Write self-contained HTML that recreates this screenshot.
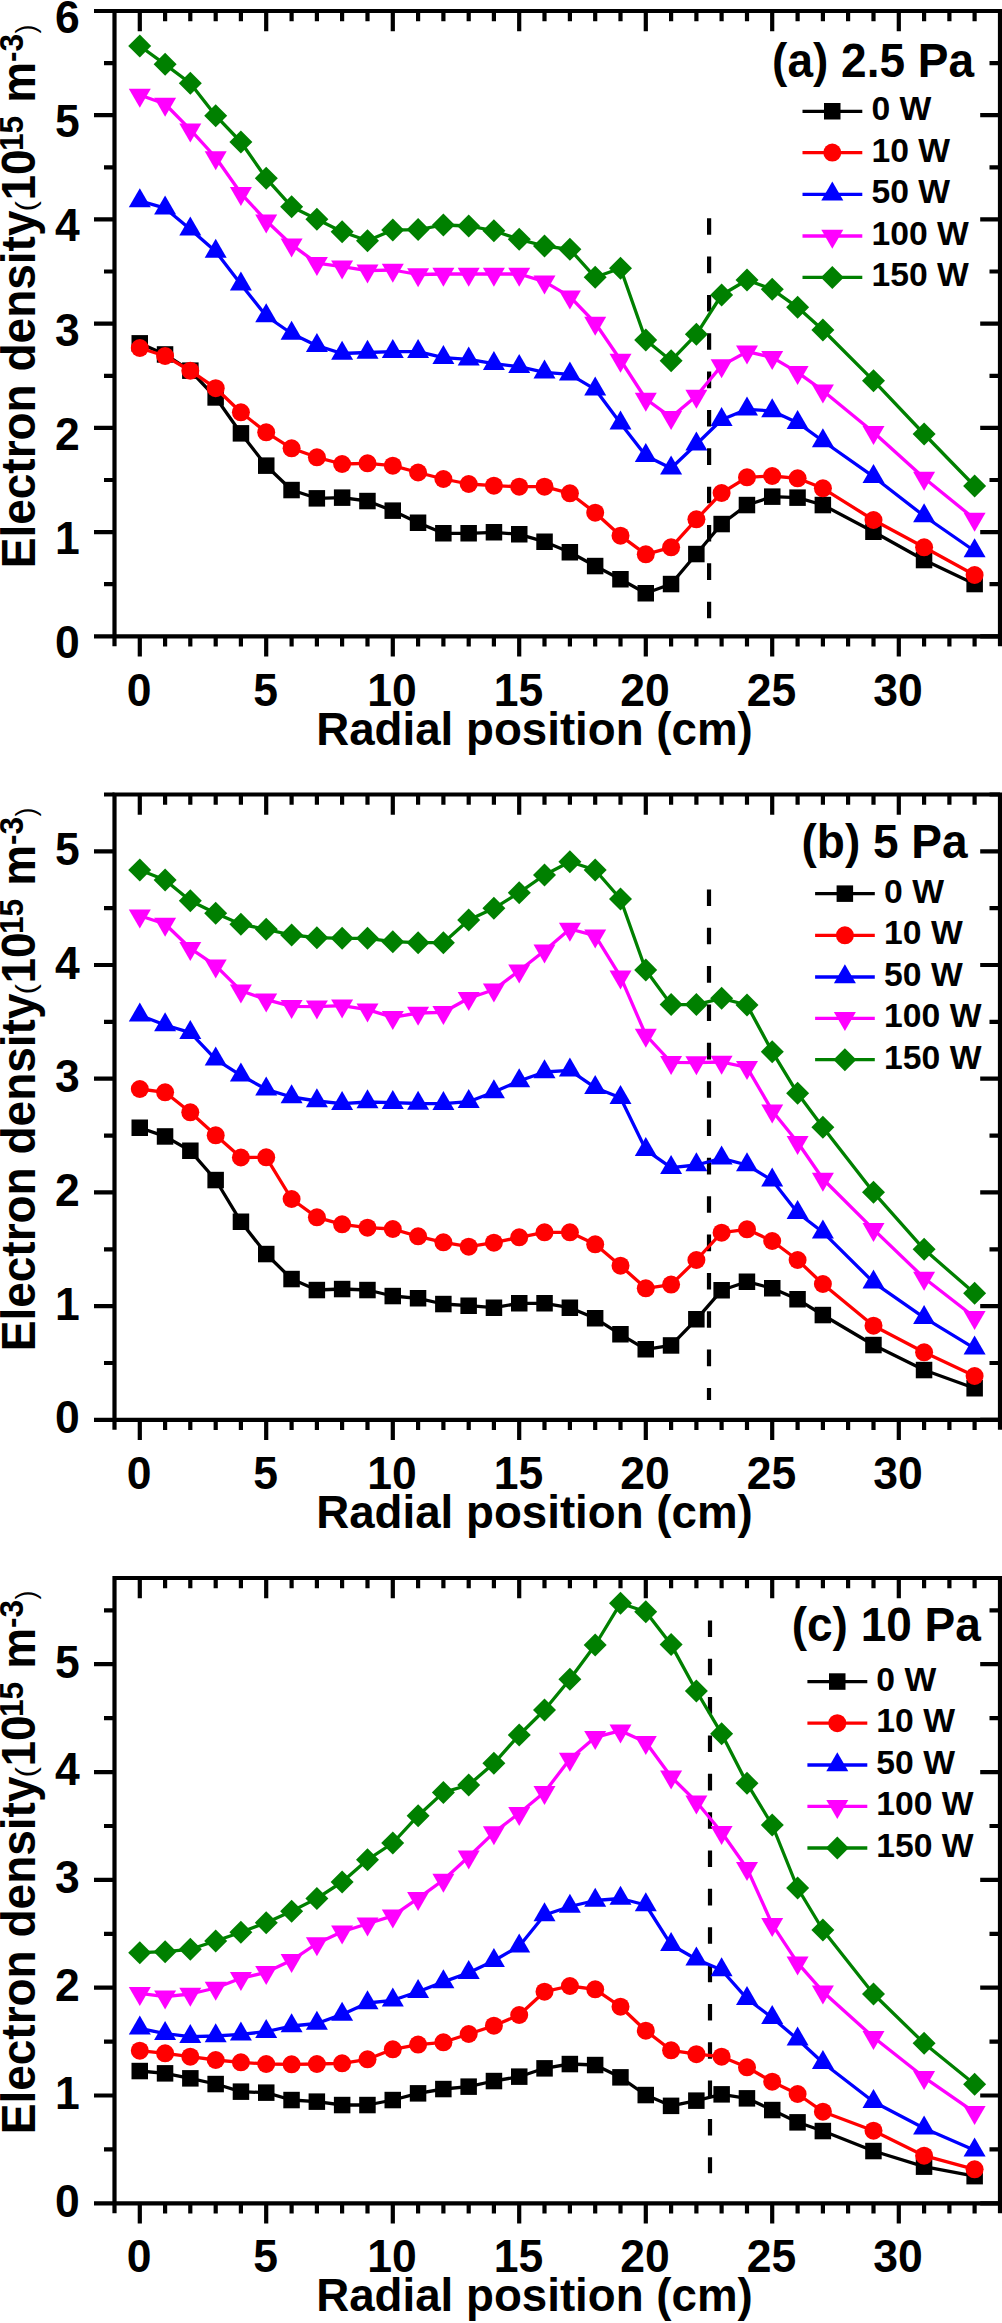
<!DOCTYPE html>
<html><head><meta charset="utf-8"><title>Electron density vs radial position</title>
<style>
html,body{margin:0;padding:0;background:#fff;}
svg{display:block;}
</style></head>
<body>
<svg width="1002" height="2323" viewBox="0 0 1002 2323">
<rect x="0" y="0" width="1002" height="2323" fill="#fff"/>
<g stroke="#000" stroke-width="4.2" fill="none" stroke-linecap="butt">
<path d="M114.5,11.0 H1004.0 M114.5,636.3 H1004.0 M114.5,8.9 V646.3 M1000.0,8.9 V646.3"/>
<path d="M139.8,636.3 v20.3 M139.8,11.0 v20.3 M165.1,636.3 v10.3 M165.1,11.0 v10.3 M190.3,636.3 v10.3 M190.3,11.0 v10.3 M215.7,636.3 v10.3 M215.7,11.0 v10.3 M240.9,636.3 v10.3 M240.9,11.0 v10.3 M266.2,636.3 v20.3 M266.2,11.0 v20.3 M291.6,636.3 v10.3 M291.6,11.0 v10.3 M316.9,636.3 v10.3 M316.9,11.0 v10.3 M342.1,636.3 v10.3 M342.1,11.0 v10.3 M367.5,636.3 v10.3 M367.5,11.0 v10.3 M392.8,636.3 v20.3 M392.8,11.0 v20.3 M418.1,636.3 v10.3 M418.1,11.0 v10.3 M443.4,636.3 v10.3 M443.4,11.0 v10.3 M468.7,636.3 v10.3 M468.7,11.0 v10.3 M493.9,636.3 v10.3 M493.9,11.0 v10.3 M519.2,636.3 v20.3 M519.2,11.0 v20.3 M544.5,636.3 v10.3 M544.5,11.0 v10.3 M569.9,636.3 v10.3 M569.9,11.0 v10.3 M595.2,636.3 v10.3 M595.2,11.0 v10.3 M620.5,636.3 v10.3 M620.5,11.0 v10.3 M645.8,636.3 v20.3 M645.8,11.0 v20.3 M671.1,636.3 v10.3 M671.1,11.0 v10.3 M696.4,636.3 v10.3 M696.4,11.0 v10.3 M721.6,636.3 v10.3 M721.6,11.0 v10.3 M747.0,636.3 v10.3 M747.0,11.0 v10.3 M772.2,636.3 v20.3 M772.2,11.0 v20.3 M797.6,636.3 v10.3 M797.6,11.0 v10.3 M822.9,636.3 v10.3 M822.9,11.0 v10.3 M848.1,636.3 v10.3 M848.1,11.0 v10.3 M873.5,636.3 v10.3 M873.5,11.0 v10.3 M898.8,636.3 v20.3 M898.8,11.0 v20.3 M924.1,636.3 v10.3 M924.1,11.0 v10.3 M949.4,636.3 v10.3 M949.4,11.0 v10.3 M974.6,636.3 v10.3 M974.6,11.0 v10.3 M114.5,636.3 h-20.5 M1000.0,636.3 h-19.8 M114.5,584.2 h-10.5 M1000.0,584.2 h-10.5 M114.5,532.1 h-20.5 M1000.0,532.1 h-19.8 M114.5,480.0 h-10.5 M1000.0,480.0 h-10.5 M114.5,427.9 h-20.5 M1000.0,427.9 h-19.8 M114.5,375.8 h-10.5 M1000.0,375.8 h-10.5 M114.5,323.6 h-20.5 M1000.0,323.6 h-19.8 M114.5,271.5 h-10.5 M1000.0,271.5 h-10.5 M114.5,219.4 h-20.5 M1000.0,219.4 h-19.8 M114.5,167.3 h-10.5 M1000.0,167.3 h-10.5 M114.5,115.2 h-20.5 M1000.0,115.2 h-19.8 M114.5,63.1 h-10.5 M1000.0,63.1 h-10.5 M114.5,11.0 h-20.5 M1000.0,11.0 h-19.8"/>
</g>
<line x1="709.1" y1="218.2" x2="709.1" y2="619.0" stroke="#000" stroke-width="4.2" stroke-dasharray="16.6 21.75"/>
<polyline points="139.8,343.3 165.1,354.5 190.3,370.7 215.7,397.5 240.9,433.3 266.2,465.7 291.6,490.0 316.9,498.3 342.1,497.7 367.5,501.0 392.8,510.7 418.1,522.7 443.4,533.3 468.7,533.3 493.9,532.3 519.2,534.3 544.5,541.7 569.9,552.3 595.2,566.0 620.5,579.3 645.8,593.3 671.1,584.0 696.4,554.0 721.6,524.0 747.0,505.0 772.2,496.7 797.6,497.7 822.9,505.0 873.5,531.7 924.1,560.0 974.6,584.0" fill="none" stroke="#000000" stroke-width="3.3" stroke-linejoin="round"/>
<g><rect x="131.5" y="335.1" width="16.5" height="16.5" fill="#000000"/><rect x="156.8" y="346.2" width="16.5" height="16.5" fill="#000000"/><rect x="182.1" y="362.4" width="16.5" height="16.5" fill="#000000"/><rect x="207.4" y="389.2" width="16.5" height="16.5" fill="#000000"/><rect x="232.7" y="425.1" width="16.5" height="16.5" fill="#000000"/><rect x="258.0" y="457.4" width="16.5" height="16.5" fill="#000000"/><rect x="283.3" y="481.8" width="16.5" height="16.5" fill="#000000"/><rect x="308.6" y="490.1" width="16.5" height="16.5" fill="#000000"/><rect x="333.9" y="489.4" width="16.5" height="16.5" fill="#000000"/><rect x="359.2" y="492.8" width="16.5" height="16.5" fill="#000000"/><rect x="384.5" y="502.4" width="16.5" height="16.5" fill="#000000"/><rect x="409.8" y="514.5" width="16.5" height="16.5" fill="#000000"/><rect x="435.1" y="525.0" width="16.5" height="16.5" fill="#000000"/><rect x="460.4" y="525.0" width="16.5" height="16.5" fill="#000000"/><rect x="485.7" y="524.0" width="16.5" height="16.5" fill="#000000"/><rect x="511.0" y="526.0" width="16.5" height="16.5" fill="#000000"/><rect x="536.3" y="533.5" width="16.5" height="16.5" fill="#000000"/><rect x="561.6" y="544.0" width="16.5" height="16.5" fill="#000000"/><rect x="586.9" y="557.8" width="16.5" height="16.5" fill="#000000"/><rect x="612.2" y="571.0" width="16.5" height="16.5" fill="#000000"/><rect x="637.5" y="585.0" width="16.5" height="16.5" fill="#000000"/><rect x="662.8" y="575.8" width="16.5" height="16.5" fill="#000000"/><rect x="688.1" y="545.8" width="16.5" height="16.5" fill="#000000"/><rect x="713.4" y="515.8" width="16.5" height="16.5" fill="#000000"/><rect x="738.7" y="496.8" width="16.5" height="16.5" fill="#000000"/><rect x="764.0" y="488.4" width="16.5" height="16.5" fill="#000000"/><rect x="789.3" y="489.4" width="16.5" height="16.5" fill="#000000"/><rect x="814.6" y="496.8" width="16.5" height="16.5" fill="#000000"/><rect x="865.2" y="523.5" width="16.5" height="16.5" fill="#000000"/><rect x="915.8" y="551.8" width="16.5" height="16.5" fill="#000000"/><rect x="966.4" y="575.8" width="16.5" height="16.5" fill="#000000"/></g>
<polyline points="139.8,348.0 165.1,356.0 190.3,370.7 215.7,388.2 240.9,412.3 266.2,432.3 291.6,448.3 316.9,457.3 342.1,464.0 367.5,463.3 392.8,465.7 418.1,472.5 443.4,479.0 468.7,484.0 493.9,485.7 519.2,486.7 544.5,486.7 569.9,493.3 595.2,512.7 620.5,535.7 645.8,554.3 671.1,547.3 696.4,519.3 721.6,493.0 747.0,477.3 772.2,476.0 797.6,478.3 822.9,488.3 873.5,520.0 924.1,547.3 974.6,575.0" fill="none" stroke="#ff0000" stroke-width="3.3" stroke-linejoin="round"/>
<g><circle cx="139.8" cy="348.0" r="9" fill="#ff0000"/><circle cx="165.1" cy="356.0" r="9" fill="#ff0000"/><circle cx="190.3" cy="370.7" r="9" fill="#ff0000"/><circle cx="215.7" cy="388.2" r="9" fill="#ff0000"/><circle cx="240.9" cy="412.3" r="9" fill="#ff0000"/><circle cx="266.2" cy="432.3" r="9" fill="#ff0000"/><circle cx="291.6" cy="448.3" r="9" fill="#ff0000"/><circle cx="316.9" cy="457.3" r="9" fill="#ff0000"/><circle cx="342.1" cy="464.0" r="9" fill="#ff0000"/><circle cx="367.5" cy="463.3" r="9" fill="#ff0000"/><circle cx="392.8" cy="465.7" r="9" fill="#ff0000"/><circle cx="418.1" cy="472.5" r="9" fill="#ff0000"/><circle cx="443.4" cy="479.0" r="9" fill="#ff0000"/><circle cx="468.7" cy="484.0" r="9" fill="#ff0000"/><circle cx="493.9" cy="485.7" r="9" fill="#ff0000"/><circle cx="519.2" cy="486.7" r="9" fill="#ff0000"/><circle cx="544.5" cy="486.7" r="9" fill="#ff0000"/><circle cx="569.9" cy="493.3" r="9" fill="#ff0000"/><circle cx="595.2" cy="512.7" r="9" fill="#ff0000"/><circle cx="620.5" cy="535.7" r="9" fill="#ff0000"/><circle cx="645.8" cy="554.3" r="9" fill="#ff0000"/><circle cx="671.1" cy="547.3" r="9" fill="#ff0000"/><circle cx="696.4" cy="519.3" r="9" fill="#ff0000"/><circle cx="721.6" cy="493.0" r="9" fill="#ff0000"/><circle cx="747.0" cy="477.3" r="9" fill="#ff0000"/><circle cx="772.2" cy="476.0" r="9" fill="#ff0000"/><circle cx="797.6" cy="478.3" r="9" fill="#ff0000"/><circle cx="822.9" cy="488.3" r="9" fill="#ff0000"/><circle cx="873.5" cy="520.0" r="9" fill="#ff0000"/><circle cx="924.1" cy="547.3" r="9" fill="#ff0000"/><circle cx="974.6" cy="575.0" r="9" fill="#ff0000"/></g>
<polyline points="139.8,200.9 165.1,208.2 190.3,229.2 215.7,251.5 240.9,284.2 266.2,316.0 291.6,333.5 316.9,345.7 342.1,353.5 367.5,352.5 392.8,351.7 418.1,351.7 443.4,357.7 468.7,359.3 493.9,363.7 519.2,366.7 544.5,372.3 569.9,374.3 595.2,389.3 620.5,423.3 645.8,455.7 671.1,468.3 696.4,444.3 721.6,419.8 747.0,409.3 772.2,411.0 797.6,422.7 822.9,441.0 873.5,476.7 924.1,516.0 974.6,551.0" fill="none" stroke="#0000ff" stroke-width="3.3" stroke-linejoin="round"/>
<g><polygon points="139.8,188.2 128.8,207.2 150.8,207.2" fill="#0000ff"/><polygon points="165.1,195.5 154.1,214.5 176.1,214.5" fill="#0000ff"/><polygon points="190.3,216.5 179.3,235.5 201.3,235.5" fill="#0000ff"/><polygon points="215.7,238.8 204.7,257.8 226.7,257.8" fill="#0000ff"/><polygon points="240.9,271.5 229.9,290.5 251.9,290.5" fill="#0000ff"/><polygon points="266.2,303.3 255.2,322.3 277.2,322.3" fill="#0000ff"/><polygon points="291.6,320.8 280.6,339.8 302.6,339.8" fill="#0000ff"/><polygon points="316.9,333.0 305.9,352.0 327.9,352.0" fill="#0000ff"/><polygon points="342.1,340.8 331.1,359.8 353.1,359.8" fill="#0000ff"/><polygon points="367.5,339.8 356.5,358.8 378.5,358.8" fill="#0000ff"/><polygon points="392.8,339.0 381.8,358.0 403.8,358.0" fill="#0000ff"/><polygon points="418.1,339.0 407.1,358.0 429.1,358.0" fill="#0000ff"/><polygon points="443.4,345.0 432.4,364.0 454.4,364.0" fill="#0000ff"/><polygon points="468.7,346.6 457.7,365.6 479.7,365.6" fill="#0000ff"/><polygon points="493.9,351.0 482.9,370.0 504.9,370.0" fill="#0000ff"/><polygon points="519.2,354.0 508.2,373.0 530.2,373.0" fill="#0000ff"/><polygon points="544.5,359.6 533.5,378.6 555.5,378.6" fill="#0000ff"/><polygon points="569.9,361.6 558.9,380.6 580.9,380.6" fill="#0000ff"/><polygon points="595.2,376.6 584.2,395.6 606.2,395.6" fill="#0000ff"/><polygon points="620.5,410.6 609.5,429.6 631.5,429.6" fill="#0000ff"/><polygon points="645.8,443.0 634.8,462.0 656.8,462.0" fill="#0000ff"/><polygon points="671.1,455.6 660.1,474.6 682.1,474.6" fill="#0000ff"/><polygon points="696.4,431.6 685.4,450.6 707.4,450.6" fill="#0000ff"/><polygon points="721.6,407.1 710.6,426.1 732.6,426.1" fill="#0000ff"/><polygon points="747.0,396.6 736.0,415.6 758.0,415.6" fill="#0000ff"/><polygon points="772.2,398.3 761.2,417.3 783.2,417.3" fill="#0000ff"/><polygon points="797.6,410.0 786.6,429.0 808.6,429.0" fill="#0000ff"/><polygon points="822.9,428.3 811.9,447.3 833.9,447.3" fill="#0000ff"/><polygon points="873.5,464.0 862.5,483.0 884.5,483.0" fill="#0000ff"/><polygon points="924.1,503.3 913.1,522.3 935.1,522.3" fill="#0000ff"/><polygon points="974.6,538.3 963.6,557.3 985.6,557.3" fill="#0000ff"/></g>
<polyline points="139.8,95.0 165.1,104.0 190.3,129.7 215.7,157.5 240.9,193.3 266.2,220.7 291.6,244.7 316.9,263.2 342.1,266.7 367.5,270.7 392.8,270.0 418.1,274.5 443.4,274.0 468.7,274.0 493.9,274.0 519.2,274.0 544.5,281.7 569.9,296.7 595.2,323.0 620.5,360.0 645.8,399.0 671.1,417.3 696.4,396.0 721.6,365.6 747.0,351.7 772.2,357.3 797.6,372.3 822.9,390.7 873.5,432.3 924.1,478.0 974.6,519.0" fill="none" stroke="#ff00ff" stroke-width="3.3" stroke-linejoin="round"/>
<g><polygon points="139.8,107.7 128.8,88.7 150.8,88.7" fill="#ff00ff"/><polygon points="165.1,116.7 154.1,97.7 176.1,97.7" fill="#ff00ff"/><polygon points="190.3,142.4 179.3,123.4 201.3,123.4" fill="#ff00ff"/><polygon points="215.7,170.2 204.7,151.2 226.7,151.2" fill="#ff00ff"/><polygon points="240.9,206.0 229.9,187.0 251.9,187.0" fill="#ff00ff"/><polygon points="266.2,233.4 255.2,214.4 277.2,214.4" fill="#ff00ff"/><polygon points="291.6,257.4 280.6,238.4 302.6,238.4" fill="#ff00ff"/><polygon points="316.9,275.9 305.9,256.9 327.9,256.9" fill="#ff00ff"/><polygon points="342.1,279.4 331.1,260.4 353.1,260.4" fill="#ff00ff"/><polygon points="367.5,283.4 356.5,264.4 378.5,264.4" fill="#ff00ff"/><polygon points="392.8,282.7 381.8,263.7 403.8,263.7" fill="#ff00ff"/><polygon points="418.1,287.2 407.1,268.2 429.1,268.2" fill="#ff00ff"/><polygon points="443.4,286.7 432.4,267.7 454.4,267.7" fill="#ff00ff"/><polygon points="468.7,286.7 457.7,267.7 479.7,267.7" fill="#ff00ff"/><polygon points="493.9,286.7 482.9,267.7 504.9,267.7" fill="#ff00ff"/><polygon points="519.2,286.7 508.2,267.7 530.2,267.7" fill="#ff00ff"/><polygon points="544.5,294.4 533.5,275.4 555.5,275.4" fill="#ff00ff"/><polygon points="569.9,309.4 558.9,290.4 580.9,290.4" fill="#ff00ff"/><polygon points="595.2,335.7 584.2,316.7 606.2,316.7" fill="#ff00ff"/><polygon points="620.5,372.7 609.5,353.7 631.5,353.7" fill="#ff00ff"/><polygon points="645.8,411.7 634.8,392.7 656.8,392.7" fill="#ff00ff"/><polygon points="671.1,430.0 660.1,411.0 682.1,411.0" fill="#ff00ff"/><polygon points="696.4,408.7 685.4,389.7 707.4,389.7" fill="#ff00ff"/><polygon points="721.6,378.3 710.6,359.3 732.6,359.3" fill="#ff00ff"/><polygon points="747.0,364.4 736.0,345.4 758.0,345.4" fill="#ff00ff"/><polygon points="772.2,370.0 761.2,351.0 783.2,351.0" fill="#ff00ff"/><polygon points="797.6,385.0 786.6,366.0 808.6,366.0" fill="#ff00ff"/><polygon points="822.9,403.4 811.9,384.4 833.9,384.4" fill="#ff00ff"/><polygon points="873.5,445.0 862.5,426.0 884.5,426.0" fill="#ff00ff"/><polygon points="924.1,490.7 913.1,471.7 935.1,471.7" fill="#ff00ff"/><polygon points="974.6,531.7 963.6,512.7 985.6,512.7" fill="#ff00ff"/></g>
<polyline points="139.8,46.0 165.1,64.3 190.3,83.3 215.7,115.7 240.9,142.0 266.2,178.3 291.6,206.7 316.9,219.3 342.1,231.7 367.5,240.7 392.8,230.0 418.1,229.6 443.4,225.0 468.7,226.0 493.9,230.7 519.2,239.3 544.5,246.0 569.9,249.3 595.2,277.3 620.5,268.3 645.8,340.0 671.1,360.7 696.4,334.3 721.6,295.0 747.0,280.0 772.2,289.3 797.6,307.3 822.9,330.0 873.5,380.7 924.1,434.0 974.6,486.0" fill="none" stroke="#008000" stroke-width="3.3" stroke-linejoin="round"/>
<g><polygon points="139.8,34.5 151.2,46.0 139.8,57.5 128.2,46.0" fill="#008000"/><polygon points="165.1,52.8 176.6,64.3 165.1,75.8 153.6,64.3" fill="#008000"/><polygon points="190.3,71.8 201.8,83.3 190.3,94.8 178.8,83.3" fill="#008000"/><polygon points="215.7,104.2 227.2,115.7 215.7,127.2 204.2,115.7" fill="#008000"/><polygon points="240.9,130.5 252.4,142.0 240.9,153.5 229.4,142.0" fill="#008000"/><polygon points="266.2,166.8 277.8,178.3 266.2,189.8 254.8,178.3" fill="#008000"/><polygon points="291.6,195.2 303.1,206.7 291.6,218.2 280.1,206.7" fill="#008000"/><polygon points="316.9,207.8 328.4,219.3 316.9,230.8 305.4,219.3" fill="#008000"/><polygon points="342.1,220.2 353.6,231.7 342.1,243.2 330.6,231.7" fill="#008000"/><polygon points="367.5,229.2 379.0,240.7 367.5,252.2 356.0,240.7" fill="#008000"/><polygon points="392.8,218.5 404.2,230.0 392.8,241.5 381.2,230.0" fill="#008000"/><polygon points="418.1,218.1 429.6,229.6 418.1,241.1 406.6,229.6" fill="#008000"/><polygon points="443.4,213.5 454.9,225.0 443.4,236.5 431.9,225.0" fill="#008000"/><polygon points="468.7,214.5 480.2,226.0 468.7,237.5 457.2,226.0" fill="#008000"/><polygon points="493.9,219.2 505.4,230.7 493.9,242.2 482.4,230.7" fill="#008000"/><polygon points="519.2,227.8 530.8,239.3 519.2,250.8 507.8,239.3" fill="#008000"/><polygon points="544.5,234.5 556.0,246.0 544.5,257.5 533.0,246.0" fill="#008000"/><polygon points="569.9,237.8 581.4,249.3 569.9,260.8 558.4,249.3" fill="#008000"/><polygon points="595.2,265.8 606.7,277.3 595.2,288.8 583.7,277.3" fill="#008000"/><polygon points="620.5,256.8 632.0,268.3 620.5,279.8 609.0,268.3" fill="#008000"/><polygon points="645.8,328.5 657.2,340.0 645.8,351.5 634.2,340.0" fill="#008000"/><polygon points="671.1,349.2 682.6,360.7 671.1,372.2 659.6,360.7" fill="#008000"/><polygon points="696.4,322.8 707.9,334.3 696.4,345.8 684.9,334.3" fill="#008000"/><polygon points="721.6,283.5 733.1,295.0 721.6,306.5 710.1,295.0" fill="#008000"/><polygon points="747.0,268.5 758.5,280.0 747.0,291.5 735.5,280.0" fill="#008000"/><polygon points="772.2,277.8 783.8,289.3 772.2,300.8 760.8,289.3" fill="#008000"/><polygon points="797.6,295.8 809.1,307.3 797.6,318.8 786.1,307.3" fill="#008000"/><polygon points="822.9,318.5 834.4,330.0 822.9,341.5 811.4,330.0" fill="#008000"/><polygon points="873.5,369.2 885.0,380.7 873.5,392.2 862.0,380.7" fill="#008000"/><polygon points="924.1,422.5 935.6,434.0 924.1,445.5 912.6,434.0" fill="#008000"/><polygon points="974.6,474.5 986.1,486.0 974.6,497.5 963.1,486.0" fill="#008000"/></g>
<text transform="translate(79.8,658.2) scale(1.0,1.05)" text-anchor="end" font-family="'Liberation Sans', sans-serif" font-weight="bold" font-size="44.5" fill="#000">0</text>
<text transform="translate(79.8,554.0) scale(1.0,1.05)" text-anchor="end" font-family="'Liberation Sans', sans-serif" font-weight="bold" font-size="44.5" fill="#000">1</text>
<text transform="translate(79.8,449.8) scale(1.0,1.05)" text-anchor="end" font-family="'Liberation Sans', sans-serif" font-weight="bold" font-size="44.5" fill="#000">2</text>
<text transform="translate(79.8,345.5) scale(1.0,1.05)" text-anchor="end" font-family="'Liberation Sans', sans-serif" font-weight="bold" font-size="44.5" fill="#000">3</text>
<text transform="translate(79.8,241.3) scale(1.0,1.05)" text-anchor="end" font-family="'Liberation Sans', sans-serif" font-weight="bold" font-size="44.5" fill="#000">4</text>
<text transform="translate(79.8,137.1) scale(1.0,1.05)" text-anchor="end" font-family="'Liberation Sans', sans-serif" font-weight="bold" font-size="44.5" fill="#000">5</text>
<text transform="translate(79.8,32.9) scale(1.0,1.05)" text-anchor="end" font-family="'Liberation Sans', sans-serif" font-weight="bold" font-size="44.5" fill="#000">6</text>
<text transform="translate(139.2,705.9) scale(1.0,1.05)" text-anchor="middle" font-family="'Liberation Sans', sans-serif" font-weight="bold" font-size="44.5" fill="#000">0</text>
<text transform="translate(265.6,705.9) scale(1.0,1.05)" text-anchor="middle" font-family="'Liberation Sans', sans-serif" font-weight="bold" font-size="44.5" fill="#000">5</text>
<text transform="translate(392.1,705.9) scale(1.0,1.05)" text-anchor="middle" font-family="'Liberation Sans', sans-serif" font-weight="bold" font-size="44.5" fill="#000">10</text>
<text transform="translate(518.6,705.9) scale(1.0,1.05)" text-anchor="middle" font-family="'Liberation Sans', sans-serif" font-weight="bold" font-size="44.5" fill="#000">15</text>
<text transform="translate(645.1,705.9) scale(1.0,1.05)" text-anchor="middle" font-family="'Liberation Sans', sans-serif" font-weight="bold" font-size="44.5" fill="#000">20</text>
<text transform="translate(771.6,705.9) scale(1.0,1.05)" text-anchor="middle" font-family="'Liberation Sans', sans-serif" font-weight="bold" font-size="44.5" fill="#000">25</text>
<text transform="translate(898.1,705.9) scale(1.0,1.05)" text-anchor="middle" font-family="'Liberation Sans', sans-serif" font-weight="bold" font-size="44.5" fill="#000">30</text>
<text transform="translate(534.5,745.4) scale(1.0,1.02)" text-anchor="middle" font-family="'Liberation Sans', sans-serif" font-weight="bold" font-size="45.7" fill="#000">Radial position (cm)</text>
<g transform="translate(35.4,562.0) rotate(-90)"><text transform="translate(-6.3,0.0) scale(1.0,1.05)" text-anchor="start" font-family="'Liberation Sans', sans-serif" font-weight="bold" font-size="46" fill="#000">Electron density</text><text transform="translate(350.4,0.0) scale(1.15,1.0)" text-anchor="start" font-family="'Liberation Sans', sans-serif" font-weight="normal" font-size="27" fill="#000">(</text><text transform="translate(361.4,0.0) scale(1.0,1.05)" text-anchor="start" font-family="'Liberation Sans', sans-serif" font-weight="bold" font-size="46" fill="#000">10</text><text transform="translate(411.0,-12.5) scale(1.0,1.03)" text-anchor="start" font-family="'Liberation Sans', sans-serif" font-weight="bold" font-size="31.5" fill="#000">15</text><text transform="translate(459.3,0.0) scale(1.0,1.05)" text-anchor="start" font-family="'Liberation Sans', sans-serif" font-weight="bold" font-size="46" fill="#000">m</text><text transform="translate(500.0,-12.5) scale(1.0,1.03)" text-anchor="start" font-family="'Liberation Sans', sans-serif" font-weight="bold" font-size="31.5" fill="#000">-3</text><text transform="translate(528.4,0.0) scale(1.0,1.0)" text-anchor="start" font-family="'Liberation Sans', sans-serif" font-weight="normal" font-size="27" fill="#000">)</text></g>
<text transform="translate(974.0,77.4) scale(1.0,1.04)" text-anchor="end" font-family="'Liberation Sans', sans-serif" font-weight="bold" font-size="46" fill="#000">(a) 2.5 Pa</text>
<line x1="802.5" y1="111.3" x2="862.3" y2="111.3" stroke="#000000" stroke-width="3.3"/>
<rect x="824.0" y="103.0" width="16.5" height="16.5" fill="#000000"/>
<text transform="translate(871.5,120.3) scale(1.0,1.0)" text-anchor="start" font-family="'Liberation Sans', sans-serif" font-weight="bold" font-size="33.7" fill="#000">0 W</text>
<line x1="802.5" y1="152.6" x2="862.3" y2="152.6" stroke="#ff0000" stroke-width="3.3"/>
<circle cx="832.3" cy="152.6" r="9" fill="#ff0000"/>
<text transform="translate(871.5,161.6) scale(1.0,1.0)" text-anchor="start" font-family="'Liberation Sans', sans-serif" font-weight="bold" font-size="33.7" fill="#000">10 W</text>
<line x1="802.5" y1="194.3" x2="862.3" y2="194.3" stroke="#0000ff" stroke-width="3.3"/>
<polygon points="832.3,181.6 821.3,200.6 843.3,200.6" fill="#0000ff"/>
<text transform="translate(871.5,203.3) scale(1.0,1.0)" text-anchor="start" font-family="'Liberation Sans', sans-serif" font-weight="bold" font-size="33.7" fill="#000">50 W</text>
<line x1="802.5" y1="236.0" x2="862.3" y2="236.0" stroke="#ff00ff" stroke-width="3.3"/>
<polygon points="832.3,248.7 821.3,229.7 843.3,229.7" fill="#ff00ff"/>
<text transform="translate(871.5,245.0) scale(1.0,1.0)" text-anchor="start" font-family="'Liberation Sans', sans-serif" font-weight="bold" font-size="33.7" fill="#000">100 W</text>
<line x1="802.5" y1="277.4" x2="862.3" y2="277.4" stroke="#008000" stroke-width="3.3"/>
<polygon points="832.3,265.9 843.8,277.4 832.3,288.9 820.8,277.4" fill="#008000"/>
<text transform="translate(871.5,286.4) scale(1.0,1.0)" text-anchor="start" font-family="'Liberation Sans', sans-serif" font-weight="bold" font-size="33.7" fill="#000">150 W</text>
<g stroke="#000" stroke-width="4.2" fill="none" stroke-linecap="butt">
<path d="M114.5,794.5 H1004.0 M114.5,1419.8 H1004.0 M114.5,792.4 V1429.8 M1000.0,792.4 V1429.8"/>
<path d="M139.8,1419.8 v20.3 M139.8,794.5 v20.3 M165.1,1419.8 v10.3 M165.1,794.5 v10.3 M190.3,1419.8 v10.3 M190.3,794.5 v10.3 M215.7,1419.8 v10.3 M215.7,794.5 v10.3 M240.9,1419.8 v10.3 M240.9,794.5 v10.3 M266.2,1419.8 v20.3 M266.2,794.5 v20.3 M291.6,1419.8 v10.3 M291.6,794.5 v10.3 M316.9,1419.8 v10.3 M316.9,794.5 v10.3 M342.1,1419.8 v10.3 M342.1,794.5 v10.3 M367.5,1419.8 v10.3 M367.5,794.5 v10.3 M392.8,1419.8 v20.3 M392.8,794.5 v20.3 M418.1,1419.8 v10.3 M418.1,794.5 v10.3 M443.4,1419.8 v10.3 M443.4,794.5 v10.3 M468.7,1419.8 v10.3 M468.7,794.5 v10.3 M493.9,1419.8 v10.3 M493.9,794.5 v10.3 M519.2,1419.8 v20.3 M519.2,794.5 v20.3 M544.5,1419.8 v10.3 M544.5,794.5 v10.3 M569.9,1419.8 v10.3 M569.9,794.5 v10.3 M595.2,1419.8 v10.3 M595.2,794.5 v10.3 M620.5,1419.8 v10.3 M620.5,794.5 v10.3 M645.8,1419.8 v20.3 M645.8,794.5 v20.3 M671.1,1419.8 v10.3 M671.1,794.5 v10.3 M696.4,1419.8 v10.3 M696.4,794.5 v10.3 M721.6,1419.8 v10.3 M721.6,794.5 v10.3 M747.0,1419.8 v10.3 M747.0,794.5 v10.3 M772.2,1419.8 v20.3 M772.2,794.5 v20.3 M797.6,1419.8 v10.3 M797.6,794.5 v10.3 M822.9,1419.8 v10.3 M822.9,794.5 v10.3 M848.1,1419.8 v10.3 M848.1,794.5 v10.3 M873.5,1419.8 v10.3 M873.5,794.5 v10.3 M898.8,1419.8 v20.3 M898.8,794.5 v20.3 M924.1,1419.8 v10.3 M924.1,794.5 v10.3 M949.4,1419.8 v10.3 M949.4,794.5 v10.3 M974.6,1419.8 v10.3 M974.6,794.5 v10.3 M114.5,1419.8 h-20.5 M1000.0,1419.8 h-19.8 M114.5,1363.0 h-10.5 M1000.0,1363.0 h-10.5 M114.5,1306.1 h-20.5 M1000.0,1306.1 h-19.8 M114.5,1249.3 h-10.5 M1000.0,1249.3 h-10.5 M114.5,1192.4 h-20.5 M1000.0,1192.4 h-19.8 M114.5,1135.6 h-10.5 M1000.0,1135.6 h-10.5 M114.5,1078.7 h-20.5 M1000.0,1078.7 h-19.8 M114.5,1021.9 h-10.5 M1000.0,1021.9 h-10.5 M114.5,965.0 h-20.5 M1000.0,965.0 h-19.8 M114.5,908.2 h-10.5 M1000.0,908.2 h-10.5 M114.5,851.3 h-20.5 M1000.0,851.3 h-19.8 M114.5,794.5 h-10.5 M1000.0,794.5 h-10.5"/>
</g>
<line x1="709.0" y1="889.4" x2="709.0" y2="1400.0" stroke="#000" stroke-width="4.2" stroke-dasharray="16.6 21.75"/>
<polyline points="139.8,1127.7 165.1,1136.4 190.3,1150.8 215.7,1180.0 240.9,1221.7 266.2,1254.0 291.6,1279.0 316.9,1290.0 342.1,1289.0 367.5,1290.0 392.8,1296.0 418.1,1298.3 443.4,1304.0 468.7,1305.7 493.9,1307.7 519.2,1303.3 544.5,1303.3 569.9,1307.7 595.2,1318.3 620.5,1334.3 645.8,1349.3 671.1,1345.4 696.4,1319.3 721.6,1290.3 747.0,1281.7 772.2,1288.3 797.6,1299.3 822.9,1315.0 873.5,1345.0 924.1,1370.0 974.6,1388.3" fill="none" stroke="#000000" stroke-width="3.3" stroke-linejoin="round"/>
<g><rect x="131.5" y="1119.5" width="16.5" height="16.5" fill="#000000"/><rect x="156.8" y="1128.2" width="16.5" height="16.5" fill="#000000"/><rect x="182.1" y="1142.5" width="16.5" height="16.5" fill="#000000"/><rect x="207.4" y="1171.8" width="16.5" height="16.5" fill="#000000"/><rect x="232.7" y="1213.5" width="16.5" height="16.5" fill="#000000"/><rect x="258.0" y="1245.8" width="16.5" height="16.5" fill="#000000"/><rect x="283.3" y="1270.8" width="16.5" height="16.5" fill="#000000"/><rect x="308.6" y="1281.8" width="16.5" height="16.5" fill="#000000"/><rect x="333.9" y="1280.8" width="16.5" height="16.5" fill="#000000"/><rect x="359.2" y="1281.8" width="16.5" height="16.5" fill="#000000"/><rect x="384.5" y="1287.8" width="16.5" height="16.5" fill="#000000"/><rect x="409.8" y="1290.0" width="16.5" height="16.5" fill="#000000"/><rect x="435.1" y="1295.8" width="16.5" height="16.5" fill="#000000"/><rect x="460.4" y="1297.5" width="16.5" height="16.5" fill="#000000"/><rect x="485.7" y="1299.5" width="16.5" height="16.5" fill="#000000"/><rect x="511.0" y="1295.0" width="16.5" height="16.5" fill="#000000"/><rect x="536.3" y="1295.0" width="16.5" height="16.5" fill="#000000"/><rect x="561.6" y="1299.5" width="16.5" height="16.5" fill="#000000"/><rect x="586.9" y="1310.0" width="16.5" height="16.5" fill="#000000"/><rect x="612.2" y="1326.0" width="16.5" height="16.5" fill="#000000"/><rect x="637.5" y="1341.0" width="16.5" height="16.5" fill="#000000"/><rect x="662.8" y="1337.2" width="16.5" height="16.5" fill="#000000"/><rect x="688.1" y="1311.0" width="16.5" height="16.5" fill="#000000"/><rect x="713.4" y="1282.0" width="16.5" height="16.5" fill="#000000"/><rect x="738.7" y="1273.5" width="16.5" height="16.5" fill="#000000"/><rect x="764.0" y="1280.0" width="16.5" height="16.5" fill="#000000"/><rect x="789.3" y="1291.0" width="16.5" height="16.5" fill="#000000"/><rect x="814.6" y="1306.8" width="16.5" height="16.5" fill="#000000"/><rect x="865.2" y="1336.8" width="16.5" height="16.5" fill="#000000"/><rect x="915.8" y="1361.8" width="16.5" height="16.5" fill="#000000"/><rect x="966.4" y="1380.0" width="16.5" height="16.5" fill="#000000"/></g>
<polyline points="139.8,1089.0 165.1,1092.3 190.3,1112.3 215.7,1135.3 240.9,1157.5 266.2,1157.3 291.6,1199.0 316.9,1217.3 342.1,1224.3 367.5,1227.7 392.8,1229.0 418.1,1236.3 443.4,1242.3 468.7,1246.7 493.9,1242.7 519.2,1237.3 544.5,1232.3 569.9,1232.3 595.2,1244.3 620.5,1265.7 645.8,1288.3 671.1,1284.6 696.4,1260.0 721.6,1232.7 747.0,1229.3 772.2,1241.0 797.6,1260.0 822.9,1284.0 873.5,1325.7 924.1,1352.3 974.6,1376.0" fill="none" stroke="#ff0000" stroke-width="3.3" stroke-linejoin="round"/>
<g><circle cx="139.8" cy="1089.0" r="9" fill="#ff0000"/><circle cx="165.1" cy="1092.3" r="9" fill="#ff0000"/><circle cx="190.3" cy="1112.3" r="9" fill="#ff0000"/><circle cx="215.7" cy="1135.3" r="9" fill="#ff0000"/><circle cx="240.9" cy="1157.5" r="9" fill="#ff0000"/><circle cx="266.2" cy="1157.3" r="9" fill="#ff0000"/><circle cx="291.6" cy="1199.0" r="9" fill="#ff0000"/><circle cx="316.9" cy="1217.3" r="9" fill="#ff0000"/><circle cx="342.1" cy="1224.3" r="9" fill="#ff0000"/><circle cx="367.5" cy="1227.7" r="9" fill="#ff0000"/><circle cx="392.8" cy="1229.0" r="9" fill="#ff0000"/><circle cx="418.1" cy="1236.3" r="9" fill="#ff0000"/><circle cx="443.4" cy="1242.3" r="9" fill="#ff0000"/><circle cx="468.7" cy="1246.7" r="9" fill="#ff0000"/><circle cx="493.9" cy="1242.7" r="9" fill="#ff0000"/><circle cx="519.2" cy="1237.3" r="9" fill="#ff0000"/><circle cx="544.5" cy="1232.3" r="9" fill="#ff0000"/><circle cx="569.9" cy="1232.3" r="9" fill="#ff0000"/><circle cx="595.2" cy="1244.3" r="9" fill="#ff0000"/><circle cx="620.5" cy="1265.7" r="9" fill="#ff0000"/><circle cx="645.8" cy="1288.3" r="9" fill="#ff0000"/><circle cx="671.1" cy="1284.6" r="9" fill="#ff0000"/><circle cx="696.4" cy="1260.0" r="9" fill="#ff0000"/><circle cx="721.6" cy="1232.7" r="9" fill="#ff0000"/><circle cx="747.0" cy="1229.3" r="9" fill="#ff0000"/><circle cx="772.2" cy="1241.0" r="9" fill="#ff0000"/><circle cx="797.6" cy="1260.0" r="9" fill="#ff0000"/><circle cx="822.9" cy="1284.0" r="9" fill="#ff0000"/><circle cx="873.5" cy="1325.7" r="9" fill="#ff0000"/><circle cx="924.1" cy="1352.3" r="9" fill="#ff0000"/><circle cx="974.6" cy="1376.0" r="9" fill="#ff0000"/></g>
<polyline points="139.8,1015.3 165.1,1025.0 190.3,1032.7 215.7,1059.3 240.9,1075.3 266.2,1089.3 291.6,1097.0 316.9,1101.0 342.1,1103.7 367.5,1102.0 392.8,1102.7 418.1,1103.5 443.4,1103.7 468.7,1101.7 493.9,1092.0 519.2,1081.0 544.5,1072.0 569.9,1070.3 595.2,1087.7 620.5,1097.7 645.8,1149.8 671.1,1167.7 696.4,1165.0 721.6,1158.3 747.0,1165.0 772.2,1180.3 797.6,1212.7 822.9,1232.2 873.5,1282.3 924.1,1317.7 974.6,1348.3" fill="none" stroke="#0000ff" stroke-width="3.3" stroke-linejoin="round"/>
<g><polygon points="139.8,1002.6 128.8,1021.6 150.8,1021.6" fill="#0000ff"/><polygon points="165.1,1012.3 154.1,1031.3 176.1,1031.3" fill="#0000ff"/><polygon points="190.3,1020.0 179.3,1039.0 201.3,1039.0" fill="#0000ff"/><polygon points="215.7,1046.6 204.7,1065.6 226.7,1065.6" fill="#0000ff"/><polygon points="240.9,1062.6 229.9,1081.6 251.9,1081.6" fill="#0000ff"/><polygon points="266.2,1076.6 255.2,1095.6 277.2,1095.6" fill="#0000ff"/><polygon points="291.6,1084.3 280.6,1103.3 302.6,1103.3" fill="#0000ff"/><polygon points="316.9,1088.3 305.9,1107.3 327.9,1107.3" fill="#0000ff"/><polygon points="342.1,1091.0 331.1,1110.0 353.1,1110.0" fill="#0000ff"/><polygon points="367.5,1089.3 356.5,1108.3 378.5,1108.3" fill="#0000ff"/><polygon points="392.8,1090.0 381.8,1109.0 403.8,1109.0" fill="#0000ff"/><polygon points="418.1,1090.8 407.1,1109.8 429.1,1109.8" fill="#0000ff"/><polygon points="443.4,1091.0 432.4,1110.0 454.4,1110.0" fill="#0000ff"/><polygon points="468.7,1089.0 457.7,1108.0 479.7,1108.0" fill="#0000ff"/><polygon points="493.9,1079.3 482.9,1098.3 504.9,1098.3" fill="#0000ff"/><polygon points="519.2,1068.3 508.2,1087.3 530.2,1087.3" fill="#0000ff"/><polygon points="544.5,1059.3 533.5,1078.3 555.5,1078.3" fill="#0000ff"/><polygon points="569.9,1057.6 558.9,1076.6 580.9,1076.6" fill="#0000ff"/><polygon points="595.2,1075.0 584.2,1094.0 606.2,1094.0" fill="#0000ff"/><polygon points="620.5,1085.0 609.5,1104.0 631.5,1104.0" fill="#0000ff"/><polygon points="645.8,1137.1 634.8,1156.1 656.8,1156.1" fill="#0000ff"/><polygon points="671.1,1155.0 660.1,1174.0 682.1,1174.0" fill="#0000ff"/><polygon points="696.4,1152.3 685.4,1171.3 707.4,1171.3" fill="#0000ff"/><polygon points="721.6,1145.6 710.6,1164.6 732.6,1164.6" fill="#0000ff"/><polygon points="747.0,1152.3 736.0,1171.3 758.0,1171.3" fill="#0000ff"/><polygon points="772.2,1167.6 761.2,1186.6 783.2,1186.6" fill="#0000ff"/><polygon points="797.6,1200.0 786.6,1219.0 808.6,1219.0" fill="#0000ff"/><polygon points="822.9,1219.5 811.9,1238.5 833.9,1238.5" fill="#0000ff"/><polygon points="873.5,1269.6 862.5,1288.6 884.5,1288.6" fill="#0000ff"/><polygon points="924.1,1305.0 913.1,1324.0 935.1,1324.0" fill="#0000ff"/><polygon points="974.6,1335.6 963.6,1354.6 985.6,1354.6" fill="#0000ff"/></g>
<polyline points="139.8,915.7 165.1,924.0 190.3,948.3 215.7,965.7 240.9,990.7 266.2,999.7 291.6,1006.3 316.9,1006.7 342.1,1005.7 367.5,1009.7 392.8,1017.3 418.1,1013.0 443.4,1012.3 468.7,998.3 493.9,989.7 519.2,970.7 544.5,950.7 569.9,929.0 595.2,935.7 620.5,976.7 645.8,1035.0 671.1,1062.3 696.4,1062.6 721.6,1062.0 747.0,1067.3 772.2,1110.7 797.6,1142.3 822.9,1179.0 873.5,1229.3 924.1,1278.0 974.6,1317.3" fill="none" stroke="#ff00ff" stroke-width="3.3" stroke-linejoin="round"/>
<g><polygon points="139.8,928.4 128.8,909.4 150.8,909.4" fill="#ff00ff"/><polygon points="165.1,936.7 154.1,917.7 176.1,917.7" fill="#ff00ff"/><polygon points="190.3,961.0 179.3,942.0 201.3,942.0" fill="#ff00ff"/><polygon points="215.7,978.4 204.7,959.4 226.7,959.4" fill="#ff00ff"/><polygon points="240.9,1003.4 229.9,984.4 251.9,984.4" fill="#ff00ff"/><polygon points="266.2,1012.4 255.2,993.4 277.2,993.4" fill="#ff00ff"/><polygon points="291.6,1019.0 280.6,1000.0 302.6,1000.0" fill="#ff00ff"/><polygon points="316.9,1019.4 305.9,1000.4 327.9,1000.4" fill="#ff00ff"/><polygon points="342.1,1018.4 331.1,999.4 353.1,999.4" fill="#ff00ff"/><polygon points="367.5,1022.4 356.5,1003.4 378.5,1003.4" fill="#ff00ff"/><polygon points="392.8,1030.0 381.8,1011.0 403.8,1011.0" fill="#ff00ff"/><polygon points="418.1,1025.7 407.1,1006.7 429.1,1006.7" fill="#ff00ff"/><polygon points="443.4,1025.0 432.4,1006.0 454.4,1006.0" fill="#ff00ff"/><polygon points="468.7,1011.0 457.7,992.0 479.7,992.0" fill="#ff00ff"/><polygon points="493.9,1002.4 482.9,983.4 504.9,983.4" fill="#ff00ff"/><polygon points="519.2,983.4 508.2,964.4 530.2,964.4" fill="#ff00ff"/><polygon points="544.5,963.4 533.5,944.4 555.5,944.4" fill="#ff00ff"/><polygon points="569.9,941.7 558.9,922.7 580.9,922.7" fill="#ff00ff"/><polygon points="595.2,948.4 584.2,929.4 606.2,929.4" fill="#ff00ff"/><polygon points="620.5,989.4 609.5,970.4 631.5,970.4" fill="#ff00ff"/><polygon points="645.8,1047.7 634.8,1028.7 656.8,1028.7" fill="#ff00ff"/><polygon points="671.1,1075.0 660.1,1056.0 682.1,1056.0" fill="#ff00ff"/><polygon points="696.4,1075.3 685.4,1056.3 707.4,1056.3" fill="#ff00ff"/><polygon points="721.6,1074.7 710.6,1055.7 732.6,1055.7" fill="#ff00ff"/><polygon points="747.0,1080.0 736.0,1061.0 758.0,1061.0" fill="#ff00ff"/><polygon points="772.2,1123.4 761.2,1104.4 783.2,1104.4" fill="#ff00ff"/><polygon points="797.6,1155.0 786.6,1136.0 808.6,1136.0" fill="#ff00ff"/><polygon points="822.9,1191.7 811.9,1172.7 833.9,1172.7" fill="#ff00ff"/><polygon points="873.5,1242.0 862.5,1223.0 884.5,1223.0" fill="#ff00ff"/><polygon points="924.1,1290.7 913.1,1271.7 935.1,1271.7" fill="#ff00ff"/><polygon points="974.6,1330.0 963.6,1311.0 985.6,1311.0" fill="#ff00ff"/></g>
<polyline points="139.8,870.0 165.1,880.0 190.3,900.7 215.7,913.3 240.9,924.3 266.2,929.3 291.6,935.0 316.9,937.7 342.1,938.3 367.5,938.3 392.8,941.7 418.1,942.7 443.4,942.7 468.7,920.0 493.9,908.3 519.2,892.7 544.5,875.0 569.9,861.7 595.2,870.0 620.5,899.0 645.8,970.0 671.1,1004.6 696.4,1004.6 721.6,998.3 747.0,1005.0 772.2,1051.7 797.6,1093.3 822.9,1127.3 873.5,1192.3 924.1,1249.3 974.6,1293.3" fill="none" stroke="#008000" stroke-width="3.3" stroke-linejoin="round"/>
<g><polygon points="139.8,858.5 151.2,870.0 139.8,881.5 128.2,870.0" fill="#008000"/><polygon points="165.1,868.5 176.6,880.0 165.1,891.5 153.6,880.0" fill="#008000"/><polygon points="190.3,889.2 201.8,900.7 190.3,912.2 178.8,900.7" fill="#008000"/><polygon points="215.7,901.8 227.2,913.3 215.7,924.8 204.2,913.3" fill="#008000"/><polygon points="240.9,912.8 252.4,924.3 240.9,935.8 229.4,924.3" fill="#008000"/><polygon points="266.2,917.8 277.8,929.3 266.2,940.8 254.8,929.3" fill="#008000"/><polygon points="291.6,923.5 303.1,935.0 291.6,946.5 280.1,935.0" fill="#008000"/><polygon points="316.9,926.2 328.4,937.7 316.9,949.2 305.4,937.7" fill="#008000"/><polygon points="342.1,926.8 353.6,938.3 342.1,949.8 330.6,938.3" fill="#008000"/><polygon points="367.5,926.8 379.0,938.3 367.5,949.8 356.0,938.3" fill="#008000"/><polygon points="392.8,930.2 404.2,941.7 392.8,953.2 381.2,941.7" fill="#008000"/><polygon points="418.1,931.2 429.6,942.7 418.1,954.2 406.6,942.7" fill="#008000"/><polygon points="443.4,931.2 454.9,942.7 443.4,954.2 431.9,942.7" fill="#008000"/><polygon points="468.7,908.5 480.2,920.0 468.7,931.5 457.2,920.0" fill="#008000"/><polygon points="493.9,896.8 505.4,908.3 493.9,919.8 482.4,908.3" fill="#008000"/><polygon points="519.2,881.2 530.8,892.7 519.2,904.2 507.8,892.7" fill="#008000"/><polygon points="544.5,863.5 556.0,875.0 544.5,886.5 533.0,875.0" fill="#008000"/><polygon points="569.9,850.2 581.4,861.7 569.9,873.2 558.4,861.7" fill="#008000"/><polygon points="595.2,858.5 606.7,870.0 595.2,881.5 583.7,870.0" fill="#008000"/><polygon points="620.5,887.5 632.0,899.0 620.5,910.5 609.0,899.0" fill="#008000"/><polygon points="645.8,958.5 657.2,970.0 645.8,981.5 634.2,970.0" fill="#008000"/><polygon points="671.1,993.1 682.6,1004.6 671.1,1016.1 659.6,1004.6" fill="#008000"/><polygon points="696.4,993.1 707.9,1004.6 696.4,1016.1 684.9,1004.6" fill="#008000"/><polygon points="721.6,986.8 733.1,998.3 721.6,1009.8 710.1,998.3" fill="#008000"/><polygon points="747.0,993.5 758.5,1005.0 747.0,1016.5 735.5,1005.0" fill="#008000"/><polygon points="772.2,1040.2 783.8,1051.7 772.2,1063.2 760.8,1051.7" fill="#008000"/><polygon points="797.6,1081.8 809.1,1093.3 797.6,1104.8 786.1,1093.3" fill="#008000"/><polygon points="822.9,1115.8 834.4,1127.3 822.9,1138.8 811.4,1127.3" fill="#008000"/><polygon points="873.5,1180.8 885.0,1192.3 873.5,1203.8 862.0,1192.3" fill="#008000"/><polygon points="924.1,1237.8 935.6,1249.3 924.1,1260.8 912.6,1249.3" fill="#008000"/><polygon points="974.6,1281.8 986.1,1293.3 974.6,1304.8 963.1,1293.3" fill="#008000"/></g>
<text transform="translate(79.8,1433.4) scale(1.0,1.05)" text-anchor="end" font-family="'Liberation Sans', sans-serif" font-weight="bold" font-size="44.5" fill="#000">0</text>
<text transform="translate(79.8,1319.7) scale(1.0,1.05)" text-anchor="end" font-family="'Liberation Sans', sans-serif" font-weight="bold" font-size="44.5" fill="#000">1</text>
<text transform="translate(79.8,1206.0) scale(1.0,1.05)" text-anchor="end" font-family="'Liberation Sans', sans-serif" font-weight="bold" font-size="44.5" fill="#000">2</text>
<text transform="translate(79.8,1092.3) scale(1.0,1.05)" text-anchor="end" font-family="'Liberation Sans', sans-serif" font-weight="bold" font-size="44.5" fill="#000">3</text>
<text transform="translate(79.8,978.6) scale(1.0,1.05)" text-anchor="end" font-family="'Liberation Sans', sans-serif" font-weight="bold" font-size="44.5" fill="#000">4</text>
<text transform="translate(79.8,864.9) scale(1.0,1.05)" text-anchor="end" font-family="'Liberation Sans', sans-serif" font-weight="bold" font-size="44.5" fill="#000">5</text>
<text transform="translate(139.2,1488.9) scale(1.0,1.05)" text-anchor="middle" font-family="'Liberation Sans', sans-serif" font-weight="bold" font-size="44.5" fill="#000">0</text>
<text transform="translate(265.6,1488.9) scale(1.0,1.05)" text-anchor="middle" font-family="'Liberation Sans', sans-serif" font-weight="bold" font-size="44.5" fill="#000">5</text>
<text transform="translate(392.1,1488.9) scale(1.0,1.05)" text-anchor="middle" font-family="'Liberation Sans', sans-serif" font-weight="bold" font-size="44.5" fill="#000">10</text>
<text transform="translate(518.6,1488.9) scale(1.0,1.05)" text-anchor="middle" font-family="'Liberation Sans', sans-serif" font-weight="bold" font-size="44.5" fill="#000">15</text>
<text transform="translate(645.1,1488.9) scale(1.0,1.05)" text-anchor="middle" font-family="'Liberation Sans', sans-serif" font-weight="bold" font-size="44.5" fill="#000">20</text>
<text transform="translate(771.6,1488.9) scale(1.0,1.05)" text-anchor="middle" font-family="'Liberation Sans', sans-serif" font-weight="bold" font-size="44.5" fill="#000">25</text>
<text transform="translate(898.1,1488.9) scale(1.0,1.05)" text-anchor="middle" font-family="'Liberation Sans', sans-serif" font-weight="bold" font-size="44.5" fill="#000">30</text>
<text transform="translate(534.5,1528.4) scale(1.0,1.02)" text-anchor="middle" font-family="'Liberation Sans', sans-serif" font-weight="bold" font-size="45.7" fill="#000">Radial position (cm)</text>
<g transform="translate(35.4,1345.0) rotate(-90)"><text transform="translate(-6.3,0.0) scale(1.0,1.05)" text-anchor="start" font-family="'Liberation Sans', sans-serif" font-weight="bold" font-size="46" fill="#000">Electron density</text><text transform="translate(350.4,0.0) scale(1.15,1.0)" text-anchor="start" font-family="'Liberation Sans', sans-serif" font-weight="normal" font-size="27" fill="#000">(</text><text transform="translate(361.4,0.0) scale(1.0,1.05)" text-anchor="start" font-family="'Liberation Sans', sans-serif" font-weight="bold" font-size="46" fill="#000">10</text><text transform="translate(411.0,-12.5) scale(1.0,1.03)" text-anchor="start" font-family="'Liberation Sans', sans-serif" font-weight="bold" font-size="31.5" fill="#000">15</text><text transform="translate(459.3,0.0) scale(1.0,1.05)" text-anchor="start" font-family="'Liberation Sans', sans-serif" font-weight="bold" font-size="46" fill="#000">m</text><text transform="translate(500.0,-12.5) scale(1.0,1.03)" text-anchor="start" font-family="'Liberation Sans', sans-serif" font-weight="bold" font-size="31.5" fill="#000">-3</text><text transform="translate(528.4,0.0) scale(1.0,1.0)" text-anchor="start" font-family="'Liberation Sans', sans-serif" font-weight="normal" font-size="27" fill="#000">)</text></g>
<text transform="translate(967.6,857.9) scale(1.0,1.04)" text-anchor="end" font-family="'Liberation Sans', sans-serif" font-weight="bold" font-size="46" fill="#000">(b) 5 Pa</text>
<line x1="815.1" y1="893.6" x2="874.8" y2="893.6" stroke="#000000" stroke-width="3.3"/>
<rect x="836.6" y="885.4" width="16.5" height="16.5" fill="#000000"/>
<text transform="translate(884.1,902.6) scale(1.0,1.0)" text-anchor="start" font-family="'Liberation Sans', sans-serif" font-weight="bold" font-size="33.7" fill="#000">0 W</text>
<line x1="815.1" y1="935.3" x2="874.8" y2="935.3" stroke="#ff0000" stroke-width="3.3"/>
<circle cx="844.9" cy="935.3" r="9" fill="#ff0000"/>
<text transform="translate(884.1,944.3) scale(1.0,1.0)" text-anchor="start" font-family="'Liberation Sans', sans-serif" font-weight="bold" font-size="33.7" fill="#000">10 W</text>
<line x1="815.1" y1="977.0" x2="874.8" y2="977.0" stroke="#0000ff" stroke-width="3.3"/>
<polygon points="844.9,964.3 833.9,983.3 855.9,983.3" fill="#0000ff"/>
<text transform="translate(884.1,986.0) scale(1.0,1.0)" text-anchor="start" font-family="'Liberation Sans', sans-serif" font-weight="bold" font-size="33.7" fill="#000">50 W</text>
<line x1="815.1" y1="1018.4" x2="874.8" y2="1018.4" stroke="#ff00ff" stroke-width="3.3"/>
<polygon points="844.9,1031.1 833.9,1012.1 855.9,1012.1" fill="#ff00ff"/>
<text transform="translate(884.1,1027.4) scale(1.0,1.0)" text-anchor="start" font-family="'Liberation Sans', sans-serif" font-weight="bold" font-size="33.7" fill="#000">100 W</text>
<line x1="815.1" y1="1059.7" x2="874.8" y2="1059.7" stroke="#008000" stroke-width="3.3"/>
<polygon points="844.9,1048.2 856.4,1059.7 844.9,1071.2 833.4,1059.7" fill="#008000"/>
<text transform="translate(884.1,1068.7) scale(1.0,1.0)" text-anchor="start" font-family="'Liberation Sans', sans-serif" font-weight="bold" font-size="33.7" fill="#000">150 W</text>
<g stroke="#000" stroke-width="4.2" fill="none" stroke-linecap="butt">
<path d="M114.5,1578.0 H1004.0 M114.5,2203.3 H1004.0 M114.5,1575.9 V2213.3 M1000.0,1575.9 V2213.3"/>
<path d="M139.8,2203.3 v20.3 M139.8,1578.0 v20.3 M165.1,2203.3 v10.3 M165.1,1578.0 v10.3 M190.3,2203.3 v10.3 M190.3,1578.0 v10.3 M215.7,2203.3 v10.3 M215.7,1578.0 v10.3 M240.9,2203.3 v10.3 M240.9,1578.0 v10.3 M266.2,2203.3 v20.3 M266.2,1578.0 v20.3 M291.6,2203.3 v10.3 M291.6,1578.0 v10.3 M316.9,2203.3 v10.3 M316.9,1578.0 v10.3 M342.1,2203.3 v10.3 M342.1,1578.0 v10.3 M367.5,2203.3 v10.3 M367.5,1578.0 v10.3 M392.8,2203.3 v20.3 M392.8,1578.0 v20.3 M418.1,2203.3 v10.3 M418.1,1578.0 v10.3 M443.4,2203.3 v10.3 M443.4,1578.0 v10.3 M468.7,2203.3 v10.3 M468.7,1578.0 v10.3 M493.9,2203.3 v10.3 M493.9,1578.0 v10.3 M519.2,2203.3 v20.3 M519.2,1578.0 v20.3 M544.5,2203.3 v10.3 M544.5,1578.0 v10.3 M569.9,2203.3 v10.3 M569.9,1578.0 v10.3 M595.2,2203.3 v10.3 M595.2,1578.0 v10.3 M620.5,2203.3 v10.3 M620.5,1578.0 v10.3 M645.8,2203.3 v20.3 M645.8,1578.0 v20.3 M671.1,2203.3 v10.3 M671.1,1578.0 v10.3 M696.4,2203.3 v10.3 M696.4,1578.0 v10.3 M721.6,2203.3 v10.3 M721.6,1578.0 v10.3 M747.0,2203.3 v10.3 M747.0,1578.0 v10.3 M772.2,2203.3 v20.3 M772.2,1578.0 v20.3 M797.6,2203.3 v10.3 M797.6,1578.0 v10.3 M822.9,2203.3 v10.3 M822.9,1578.0 v10.3 M848.1,2203.3 v10.3 M848.1,1578.0 v10.3 M873.5,2203.3 v10.3 M873.5,1578.0 v10.3 M898.8,2203.3 v20.3 M898.8,1578.0 v20.3 M924.1,2203.3 v10.3 M924.1,1578.0 v10.3 M949.4,2203.3 v10.3 M949.4,1578.0 v10.3 M974.6,2203.3 v10.3 M974.6,1578.0 v10.3 M114.5,2203.3 h-20.5 M1000.0,2203.3 h-19.8 M114.5,2149.4 h-10.5 M1000.0,2149.4 h-10.5 M114.5,2095.5 h-20.5 M1000.0,2095.5 h-19.8 M114.5,2041.6 h-10.5 M1000.0,2041.6 h-10.5 M114.5,1987.7 h-20.5 M1000.0,1987.7 h-19.8 M114.5,1933.8 h-10.5 M1000.0,1933.8 h-10.5 M114.5,1879.9 h-20.5 M1000.0,1879.9 h-19.8 M114.5,1826.0 h-10.5 M1000.0,1826.0 h-10.5 M114.5,1772.1 h-20.5 M1000.0,1772.1 h-19.8 M114.5,1718.2 h-10.5 M1000.0,1718.2 h-10.5 M114.5,1664.2 h-20.5 M1000.0,1664.2 h-19.8 M114.5,1610.3 h-10.5 M1000.0,1610.3 h-10.5"/>
</g>
<line x1="710.0" y1="1620.4" x2="710.0" y2="2173.2" stroke="#000" stroke-width="4.2" stroke-dasharray="16.6 21.75"/>
<polyline points="139.8,2071.0 165.1,2073.3 190.3,2078.3 215.7,2084.0 240.9,2091.7 266.2,2092.7 291.6,2100.0 316.9,2101.7 342.1,2105.0 367.5,2105.0 392.8,2100.0 418.1,2093.3 443.4,2089.0 468.7,2086.7 493.9,2081.0 519.2,2076.7 544.5,2068.3 569.9,2064.0 595.2,2065.0 620.5,2077.3 645.8,2095.0 671.1,2105.8 696.4,2100.7 721.6,2094.3 747.0,2098.3 772.2,2110.0 797.6,2122.3 822.9,2131.0 873.5,2151.0 924.1,2166.7 974.6,2176.2" fill="none" stroke="#000000" stroke-width="3.3" stroke-linejoin="round"/>
<g><rect x="131.5" y="2062.8" width="16.5" height="16.5" fill="#000000"/><rect x="156.8" y="2065.1" width="16.5" height="16.5" fill="#000000"/><rect x="182.1" y="2070.1" width="16.5" height="16.5" fill="#000000"/><rect x="207.4" y="2075.8" width="16.5" height="16.5" fill="#000000"/><rect x="232.7" y="2083.4" width="16.5" height="16.5" fill="#000000"/><rect x="258.0" y="2084.4" width="16.5" height="16.5" fill="#000000"/><rect x="283.3" y="2091.8" width="16.5" height="16.5" fill="#000000"/><rect x="308.6" y="2093.4" width="16.5" height="16.5" fill="#000000"/><rect x="333.9" y="2096.8" width="16.5" height="16.5" fill="#000000"/><rect x="359.2" y="2096.8" width="16.5" height="16.5" fill="#000000"/><rect x="384.5" y="2091.8" width="16.5" height="16.5" fill="#000000"/><rect x="409.8" y="2085.1" width="16.5" height="16.5" fill="#000000"/><rect x="435.1" y="2080.8" width="16.5" height="16.5" fill="#000000"/><rect x="460.4" y="2078.4" width="16.5" height="16.5" fill="#000000"/><rect x="485.7" y="2072.8" width="16.5" height="16.5" fill="#000000"/><rect x="511.0" y="2068.4" width="16.5" height="16.5" fill="#000000"/><rect x="536.3" y="2060.1" width="16.5" height="16.5" fill="#000000"/><rect x="561.6" y="2055.8" width="16.5" height="16.5" fill="#000000"/><rect x="586.9" y="2056.8" width="16.5" height="16.5" fill="#000000"/><rect x="612.2" y="2069.1" width="16.5" height="16.5" fill="#000000"/><rect x="637.5" y="2086.8" width="16.5" height="16.5" fill="#000000"/><rect x="662.8" y="2097.6" width="16.5" height="16.5" fill="#000000"/><rect x="688.1" y="2092.4" width="16.5" height="16.5" fill="#000000"/><rect x="713.4" y="2086.1" width="16.5" height="16.5" fill="#000000"/><rect x="738.7" y="2090.1" width="16.5" height="16.5" fill="#000000"/><rect x="764.0" y="2101.8" width="16.5" height="16.5" fill="#000000"/><rect x="789.3" y="2114.1" width="16.5" height="16.5" fill="#000000"/><rect x="814.6" y="2122.8" width="16.5" height="16.5" fill="#000000"/><rect x="865.2" y="2142.8" width="16.5" height="16.5" fill="#000000"/><rect x="915.8" y="2158.4" width="16.5" height="16.5" fill="#000000"/><rect x="966.4" y="2167.9" width="16.5" height="16.5" fill="#000000"/></g>
<polyline points="139.8,2050.7 165.1,2053.3 190.3,2056.7 215.7,2060.0 240.9,2062.3 266.2,2064.0 291.6,2064.3 316.9,2064.0 342.1,2063.3 367.5,2059.3 392.8,2049.3 418.1,2044.6 443.4,2042.3 468.7,2034.0 493.9,2025.7 519.2,2015.0 544.5,1991.7 569.9,1986.0 595.2,1989.3 620.5,2006.7 645.8,2030.7 671.1,2050.3 696.4,2054.2 721.6,2056.7 747.0,2067.3 772.2,2081.7 797.6,2094.0 822.9,2111.7 873.5,2130.7 924.1,2155.7 974.6,2169.3" fill="none" stroke="#ff0000" stroke-width="3.3" stroke-linejoin="round"/>
<g><circle cx="139.8" cy="2050.7" r="9" fill="#ff0000"/><circle cx="165.1" cy="2053.3" r="9" fill="#ff0000"/><circle cx="190.3" cy="2056.7" r="9" fill="#ff0000"/><circle cx="215.7" cy="2060.0" r="9" fill="#ff0000"/><circle cx="240.9" cy="2062.3" r="9" fill="#ff0000"/><circle cx="266.2" cy="2064.0" r="9" fill="#ff0000"/><circle cx="291.6" cy="2064.3" r="9" fill="#ff0000"/><circle cx="316.9" cy="2064.0" r="9" fill="#ff0000"/><circle cx="342.1" cy="2063.3" r="9" fill="#ff0000"/><circle cx="367.5" cy="2059.3" r="9" fill="#ff0000"/><circle cx="392.8" cy="2049.3" r="9" fill="#ff0000"/><circle cx="418.1" cy="2044.6" r="9" fill="#ff0000"/><circle cx="443.4" cy="2042.3" r="9" fill="#ff0000"/><circle cx="468.7" cy="2034.0" r="9" fill="#ff0000"/><circle cx="493.9" cy="2025.7" r="9" fill="#ff0000"/><circle cx="519.2" cy="2015.0" r="9" fill="#ff0000"/><circle cx="544.5" cy="1991.7" r="9" fill="#ff0000"/><circle cx="569.9" cy="1986.0" r="9" fill="#ff0000"/><circle cx="595.2" cy="1989.3" r="9" fill="#ff0000"/><circle cx="620.5" cy="2006.7" r="9" fill="#ff0000"/><circle cx="645.8" cy="2030.7" r="9" fill="#ff0000"/><circle cx="671.1" cy="2050.3" r="9" fill="#ff0000"/><circle cx="696.4" cy="2054.2" r="9" fill="#ff0000"/><circle cx="721.6" cy="2056.7" r="9" fill="#ff0000"/><circle cx="747.0" cy="2067.3" r="9" fill="#ff0000"/><circle cx="772.2" cy="2081.7" r="9" fill="#ff0000"/><circle cx="797.6" cy="2094.0" r="9" fill="#ff0000"/><circle cx="822.9" cy="2111.7" r="9" fill="#ff0000"/><circle cx="873.5" cy="2130.7" r="9" fill="#ff0000"/><circle cx="924.1" cy="2155.7" r="9" fill="#ff0000"/><circle cx="974.6" cy="2169.3" r="9" fill="#ff0000"/></g>
<polyline points="139.8,2028.3 165.1,2033.7 190.3,2036.7 215.7,2036.0 240.9,2034.3 266.2,2031.7 291.6,2026.0 316.9,2023.5 342.1,2014.4 367.5,2003.0 392.8,2000.3 418.1,1991.7 443.4,1981.9 468.7,1972.7 493.9,1960.7 519.2,1946.2 544.5,1915.0 569.9,1906.5 595.2,1900.5 620.5,1898.5 645.8,1905.0 671.1,1944.8 696.4,1959.3 721.6,1970.0 747.0,1998.7 772.2,2017.7 797.6,2039.3 822.9,2062.7 873.5,2101.7 924.1,2128.3 974.6,2150.3" fill="none" stroke="#0000ff" stroke-width="3.3" stroke-linejoin="round"/>
<g><polygon points="139.8,2015.6 128.8,2034.6 150.8,2034.6" fill="#0000ff"/><polygon points="165.1,2021.0 154.1,2040.0 176.1,2040.0" fill="#0000ff"/><polygon points="190.3,2024.0 179.3,2043.0 201.3,2043.0" fill="#0000ff"/><polygon points="215.7,2023.3 204.7,2042.3 226.7,2042.3" fill="#0000ff"/><polygon points="240.9,2021.6 229.9,2040.6 251.9,2040.6" fill="#0000ff"/><polygon points="266.2,2019.0 255.2,2038.0 277.2,2038.0" fill="#0000ff"/><polygon points="291.6,2013.3 280.6,2032.3 302.6,2032.3" fill="#0000ff"/><polygon points="316.9,2010.8 305.9,2029.8 327.9,2029.8" fill="#0000ff"/><polygon points="342.1,2001.7 331.1,2020.7 353.1,2020.7" fill="#0000ff"/><polygon points="367.5,1990.3 356.5,2009.3 378.5,2009.3" fill="#0000ff"/><polygon points="392.8,1987.6 381.8,2006.6 403.8,2006.6" fill="#0000ff"/><polygon points="418.1,1979.0 407.1,1998.0 429.1,1998.0" fill="#0000ff"/><polygon points="443.4,1969.2 432.4,1988.2 454.4,1988.2" fill="#0000ff"/><polygon points="468.7,1960.0 457.7,1979.0 479.7,1979.0" fill="#0000ff"/><polygon points="493.9,1948.0 482.9,1967.0 504.9,1967.0" fill="#0000ff"/><polygon points="519.2,1933.5 508.2,1952.5 530.2,1952.5" fill="#0000ff"/><polygon points="544.5,1902.3 533.5,1921.3 555.5,1921.3" fill="#0000ff"/><polygon points="569.9,1893.8 558.9,1912.8 580.9,1912.8" fill="#0000ff"/><polygon points="595.2,1887.8 584.2,1906.8 606.2,1906.8" fill="#0000ff"/><polygon points="620.5,1885.8 609.5,1904.8 631.5,1904.8" fill="#0000ff"/><polygon points="645.8,1892.3 634.8,1911.3 656.8,1911.3" fill="#0000ff"/><polygon points="671.1,1932.1 660.1,1951.1 682.1,1951.1" fill="#0000ff"/><polygon points="696.4,1946.6 685.4,1965.6 707.4,1965.6" fill="#0000ff"/><polygon points="721.6,1957.3 710.6,1976.3 732.6,1976.3" fill="#0000ff"/><polygon points="747.0,1986.0 736.0,2005.0 758.0,2005.0" fill="#0000ff"/><polygon points="772.2,2005.0 761.2,2024.0 783.2,2024.0" fill="#0000ff"/><polygon points="797.6,2026.6 786.6,2045.6 808.6,2045.6" fill="#0000ff"/><polygon points="822.9,2050.0 811.9,2069.0 833.9,2069.0" fill="#0000ff"/><polygon points="873.5,2089.0 862.5,2108.0 884.5,2108.0" fill="#0000ff"/><polygon points="924.1,2115.6 913.1,2134.6 935.1,2134.6" fill="#0000ff"/><polygon points="974.6,2137.6 963.6,2156.6 985.6,2156.6" fill="#0000ff"/></g>
<polyline points="139.8,1993.3 165.1,1996.7 190.3,1994.0 215.7,1988.0 240.9,1978.3 266.2,1972.3 291.6,1960.3 316.9,1943.5 342.1,1931.7 367.5,1923.7 392.8,1915.8 418.1,1898.4 443.4,1880.0 468.7,1856.8 493.9,1832.6 519.2,1813.2 544.5,1792.3 569.9,1759.0 595.2,1737.3 620.5,1730.7 645.8,1742.3 671.1,1776.8 696.4,1801.7 721.6,1832.3 747.0,1868.3 772.2,1924.3 797.6,1962.8 822.9,1991.7 873.5,2037.3 924.1,2077.3 974.6,2112.3" fill="none" stroke="#ff00ff" stroke-width="3.3" stroke-linejoin="round"/>
<g><polygon points="139.8,2006.0 128.8,1987.0 150.8,1987.0" fill="#ff00ff"/><polygon points="165.1,2009.4 154.1,1990.4 176.1,1990.4" fill="#ff00ff"/><polygon points="190.3,2006.7 179.3,1987.7 201.3,1987.7" fill="#ff00ff"/><polygon points="215.7,2000.7 204.7,1981.7 226.7,1981.7" fill="#ff00ff"/><polygon points="240.9,1991.0 229.9,1972.0 251.9,1972.0" fill="#ff00ff"/><polygon points="266.2,1985.0 255.2,1966.0 277.2,1966.0" fill="#ff00ff"/><polygon points="291.6,1973.0 280.6,1954.0 302.6,1954.0" fill="#ff00ff"/><polygon points="316.9,1956.2 305.9,1937.2 327.9,1937.2" fill="#ff00ff"/><polygon points="342.1,1944.4 331.1,1925.4 353.1,1925.4" fill="#ff00ff"/><polygon points="367.5,1936.4 356.5,1917.4 378.5,1917.4" fill="#ff00ff"/><polygon points="392.8,1928.5 381.8,1909.5 403.8,1909.5" fill="#ff00ff"/><polygon points="418.1,1911.1 407.1,1892.1 429.1,1892.1" fill="#ff00ff"/><polygon points="443.4,1892.7 432.4,1873.7 454.4,1873.7" fill="#ff00ff"/><polygon points="468.7,1869.5 457.7,1850.5 479.7,1850.5" fill="#ff00ff"/><polygon points="493.9,1845.3 482.9,1826.3 504.9,1826.3" fill="#ff00ff"/><polygon points="519.2,1825.9 508.2,1806.9 530.2,1806.9" fill="#ff00ff"/><polygon points="544.5,1805.0 533.5,1786.0 555.5,1786.0" fill="#ff00ff"/><polygon points="569.9,1771.7 558.9,1752.7 580.9,1752.7" fill="#ff00ff"/><polygon points="595.2,1750.0 584.2,1731.0 606.2,1731.0" fill="#ff00ff"/><polygon points="620.5,1743.4 609.5,1724.4 631.5,1724.4" fill="#ff00ff"/><polygon points="645.8,1755.0 634.8,1736.0 656.8,1736.0" fill="#ff00ff"/><polygon points="671.1,1789.5 660.1,1770.5 682.1,1770.5" fill="#ff00ff"/><polygon points="696.4,1814.4 685.4,1795.4 707.4,1795.4" fill="#ff00ff"/><polygon points="721.6,1845.0 710.6,1826.0 732.6,1826.0" fill="#ff00ff"/><polygon points="747.0,1881.0 736.0,1862.0 758.0,1862.0" fill="#ff00ff"/><polygon points="772.2,1937.0 761.2,1918.0 783.2,1918.0" fill="#ff00ff"/><polygon points="797.6,1975.5 786.6,1956.5 808.6,1956.5" fill="#ff00ff"/><polygon points="822.9,2004.4 811.9,1985.4 833.9,1985.4" fill="#ff00ff"/><polygon points="873.5,2050.0 862.5,2031.0 884.5,2031.0" fill="#ff00ff"/><polygon points="924.1,2090.0 913.1,2071.0 935.1,2071.0" fill="#ff00ff"/><polygon points="974.6,2125.0 963.6,2106.0 985.6,2106.0" fill="#ff00ff"/></g>
<polyline points="139.8,1952.7 165.1,1951.7 190.3,1949.3 215.7,1941.0 240.9,1932.3 266.2,1922.7 291.6,1911.2 316.9,1898.4 342.1,1882.0 367.5,1859.8 392.8,1843.0 418.1,1815.7 443.4,1792.4 468.7,1785.0 493.9,1763.3 519.2,1735.0 544.5,1710.0 569.9,1679.3 595.2,1645.0 620.5,1603.3 645.8,1611.7 671.1,1644.6 696.4,1691.0 721.6,1733.7 747.0,1783.3 772.2,1825.0 797.6,1888.0 822.9,1930.0 873.5,1994.0 924.1,2043.3 974.6,2084.3" fill="none" stroke="#008000" stroke-width="3.3" stroke-linejoin="round"/>
<g><polygon points="139.8,1941.2 151.2,1952.7 139.8,1964.2 128.2,1952.7" fill="#008000"/><polygon points="165.1,1940.2 176.6,1951.7 165.1,1963.2 153.6,1951.7" fill="#008000"/><polygon points="190.3,1937.8 201.8,1949.3 190.3,1960.8 178.8,1949.3" fill="#008000"/><polygon points="215.7,1929.5 227.2,1941.0 215.7,1952.5 204.2,1941.0" fill="#008000"/><polygon points="240.9,1920.8 252.4,1932.3 240.9,1943.8 229.4,1932.3" fill="#008000"/><polygon points="266.2,1911.2 277.8,1922.7 266.2,1934.2 254.8,1922.7" fill="#008000"/><polygon points="291.6,1899.7 303.1,1911.2 291.6,1922.7 280.1,1911.2" fill="#008000"/><polygon points="316.9,1886.9 328.4,1898.4 316.9,1909.9 305.4,1898.4" fill="#008000"/><polygon points="342.1,1870.5 353.6,1882.0 342.1,1893.5 330.6,1882.0" fill="#008000"/><polygon points="367.5,1848.3 379.0,1859.8 367.5,1871.3 356.0,1859.8" fill="#008000"/><polygon points="392.8,1831.5 404.2,1843.0 392.8,1854.5 381.2,1843.0" fill="#008000"/><polygon points="418.1,1804.2 429.6,1815.7 418.1,1827.2 406.6,1815.7" fill="#008000"/><polygon points="443.4,1780.9 454.9,1792.4 443.4,1803.9 431.9,1792.4" fill="#008000"/><polygon points="468.7,1773.5 480.2,1785.0 468.7,1796.5 457.2,1785.0" fill="#008000"/><polygon points="493.9,1751.8 505.4,1763.3 493.9,1774.8 482.4,1763.3" fill="#008000"/><polygon points="519.2,1723.5 530.8,1735.0 519.2,1746.5 507.8,1735.0" fill="#008000"/><polygon points="544.5,1698.5 556.0,1710.0 544.5,1721.5 533.0,1710.0" fill="#008000"/><polygon points="569.9,1667.8 581.4,1679.3 569.9,1690.8 558.4,1679.3" fill="#008000"/><polygon points="595.2,1633.5 606.7,1645.0 595.2,1656.5 583.7,1645.0" fill="#008000"/><polygon points="620.5,1591.8 632.0,1603.3 620.5,1614.8 609.0,1603.3" fill="#008000"/><polygon points="645.8,1600.2 657.2,1611.7 645.8,1623.2 634.2,1611.7" fill="#008000"/><polygon points="671.1,1633.1 682.6,1644.6 671.1,1656.1 659.6,1644.6" fill="#008000"/><polygon points="696.4,1679.5 707.9,1691.0 696.4,1702.5 684.9,1691.0" fill="#008000"/><polygon points="721.6,1722.2 733.1,1733.7 721.6,1745.2 710.1,1733.7" fill="#008000"/><polygon points="747.0,1771.8 758.5,1783.3 747.0,1794.8 735.5,1783.3" fill="#008000"/><polygon points="772.2,1813.5 783.8,1825.0 772.2,1836.5 760.8,1825.0" fill="#008000"/><polygon points="797.6,1876.5 809.1,1888.0 797.6,1899.5 786.1,1888.0" fill="#008000"/><polygon points="822.9,1918.5 834.4,1930.0 822.9,1941.5 811.4,1930.0" fill="#008000"/><polygon points="873.5,1982.5 885.0,1994.0 873.5,2005.5 862.0,1994.0" fill="#008000"/><polygon points="924.1,2031.8 935.6,2043.3 924.1,2054.8 912.6,2043.3" fill="#008000"/><polygon points="974.6,2072.8 986.1,2084.3 974.6,2095.8 963.1,2084.3" fill="#008000"/></g>
<text transform="translate(79.8,2216.6) scale(1.0,1.05)" text-anchor="end" font-family="'Liberation Sans', sans-serif" font-weight="bold" font-size="44.5" fill="#000">0</text>
<text transform="translate(79.8,2108.8) scale(1.0,1.05)" text-anchor="end" font-family="'Liberation Sans', sans-serif" font-weight="bold" font-size="44.5" fill="#000">1</text>
<text transform="translate(79.8,2001.0) scale(1.0,1.05)" text-anchor="end" font-family="'Liberation Sans', sans-serif" font-weight="bold" font-size="44.5" fill="#000">2</text>
<text transform="translate(79.8,1893.2) scale(1.0,1.05)" text-anchor="end" font-family="'Liberation Sans', sans-serif" font-weight="bold" font-size="44.5" fill="#000">3</text>
<text transform="translate(79.8,1785.4) scale(1.0,1.05)" text-anchor="end" font-family="'Liberation Sans', sans-serif" font-weight="bold" font-size="44.5" fill="#000">4</text>
<text transform="translate(79.8,1677.5) scale(1.0,1.05)" text-anchor="end" font-family="'Liberation Sans', sans-serif" font-weight="bold" font-size="44.5" fill="#000">5</text>
<text transform="translate(139.2,2271.9) scale(1.0,1.05)" text-anchor="middle" font-family="'Liberation Sans', sans-serif" font-weight="bold" font-size="44.5" fill="#000">0</text>
<text transform="translate(265.6,2271.9) scale(1.0,1.05)" text-anchor="middle" font-family="'Liberation Sans', sans-serif" font-weight="bold" font-size="44.5" fill="#000">5</text>
<text transform="translate(392.1,2271.9) scale(1.0,1.05)" text-anchor="middle" font-family="'Liberation Sans', sans-serif" font-weight="bold" font-size="44.5" fill="#000">10</text>
<text transform="translate(518.6,2271.9) scale(1.0,1.05)" text-anchor="middle" font-family="'Liberation Sans', sans-serif" font-weight="bold" font-size="44.5" fill="#000">15</text>
<text transform="translate(645.1,2271.9) scale(1.0,1.05)" text-anchor="middle" font-family="'Liberation Sans', sans-serif" font-weight="bold" font-size="44.5" fill="#000">20</text>
<text transform="translate(771.6,2271.9) scale(1.0,1.05)" text-anchor="middle" font-family="'Liberation Sans', sans-serif" font-weight="bold" font-size="44.5" fill="#000">25</text>
<text transform="translate(898.1,2271.9) scale(1.0,1.05)" text-anchor="middle" font-family="'Liberation Sans', sans-serif" font-weight="bold" font-size="44.5" fill="#000">30</text>
<text transform="translate(534.5,2311.4) scale(1.0,1.02)" text-anchor="middle" font-family="'Liberation Sans', sans-serif" font-weight="bold" font-size="45.7" fill="#000">Radial position (cm)</text>
<g transform="translate(35.4,2128.0) rotate(-90)"><text transform="translate(-6.3,0.0) scale(1.0,1.05)" text-anchor="start" font-family="'Liberation Sans', sans-serif" font-weight="bold" font-size="46" fill="#000">Electron density</text><text transform="translate(350.4,0.0) scale(1.15,1.0)" text-anchor="start" font-family="'Liberation Sans', sans-serif" font-weight="normal" font-size="27" fill="#000">(</text><text transform="translate(361.4,0.0) scale(1.0,1.05)" text-anchor="start" font-family="'Liberation Sans', sans-serif" font-weight="bold" font-size="46" fill="#000">10</text><text transform="translate(411.0,-12.5) scale(1.0,1.03)" text-anchor="start" font-family="'Liberation Sans', sans-serif" font-weight="bold" font-size="31.5" fill="#000">15</text><text transform="translate(459.3,0.0) scale(1.0,1.05)" text-anchor="start" font-family="'Liberation Sans', sans-serif" font-weight="bold" font-size="46" fill="#000">m</text><text transform="translate(500.0,-12.5) scale(1.0,1.03)" text-anchor="start" font-family="'Liberation Sans', sans-serif" font-weight="bold" font-size="31.5" fill="#000">-3</text><text transform="translate(528.4,0.0) scale(1.0,1.0)" text-anchor="start" font-family="'Liberation Sans', sans-serif" font-weight="normal" font-size="27" fill="#000">)</text></g>
<text transform="translate(980.8,1640.9) scale(1.0,1.04)" text-anchor="end" font-family="'Liberation Sans', sans-serif" font-weight="bold" font-size="46" fill="#000">(c) 10 Pa</text>
<line x1="807.4" y1="1681.6" x2="867.3" y2="1681.6" stroke="#000000" stroke-width="3.3"/>
<rect x="829.0" y="1673.3" width="16.5" height="16.5" fill="#000000"/>
<text transform="translate(876.3,1690.6) scale(1.0,1.0)" text-anchor="start" font-family="'Liberation Sans', sans-serif" font-weight="bold" font-size="33.7" fill="#000">0 W</text>
<line x1="807.4" y1="1723.2" x2="867.3" y2="1723.2" stroke="#ff0000" stroke-width="3.3"/>
<circle cx="837.3" cy="1723.2" r="9" fill="#ff0000"/>
<text transform="translate(876.3,1732.2) scale(1.0,1.0)" text-anchor="start" font-family="'Liberation Sans', sans-serif" font-weight="bold" font-size="33.7" fill="#000">10 W</text>
<line x1="807.4" y1="1765.0" x2="867.3" y2="1765.0" stroke="#0000ff" stroke-width="3.3"/>
<polygon points="837.3,1752.3 826.3,1771.3 848.3,1771.3" fill="#0000ff"/>
<text transform="translate(876.3,1774.0) scale(1.0,1.0)" text-anchor="start" font-family="'Liberation Sans', sans-serif" font-weight="bold" font-size="33.7" fill="#000">50 W</text>
<line x1="807.4" y1="1806.4" x2="867.3" y2="1806.4" stroke="#ff00ff" stroke-width="3.3"/>
<polygon points="837.3,1819.1 826.3,1800.1 848.3,1800.1" fill="#ff00ff"/>
<text transform="translate(876.3,1815.4) scale(1.0,1.0)" text-anchor="start" font-family="'Liberation Sans', sans-serif" font-weight="bold" font-size="33.7" fill="#000">100 W</text>
<line x1="807.4" y1="1848.0" x2="867.3" y2="1848.0" stroke="#008000" stroke-width="3.3"/>
<polygon points="837.3,1836.5 848.8,1848.0 837.3,1859.5 825.8,1848.0" fill="#008000"/>
<text transform="translate(876.3,1857.0) scale(1.0,1.0)" text-anchor="start" font-family="'Liberation Sans', sans-serif" font-weight="bold" font-size="33.7" fill="#000">150 W</text>
</svg>
</body></html>
